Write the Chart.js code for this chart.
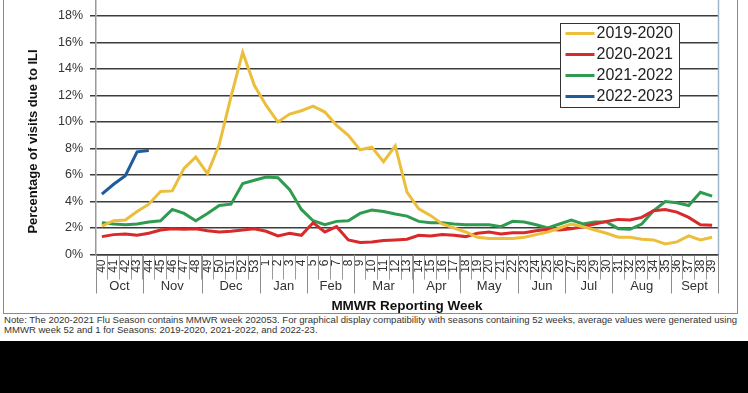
<!DOCTYPE html>
<html><head><meta charset="utf-8">
<script src="https://cdn.jsdelivr.net/npm/chart.js@4/dist/chart.umd.min.js"></script>
<style>
html,body{margin:0;padding:0;background:#000;}
#page{position:relative;width:748px;height:393px;overflow:hidden;background:#000;}
#white{position:absolute;left:0;top:0;width:748px;height:341px;background:#fff;}
#frame{position:absolute;left:3px;top:-2px;width:735px;height:316px;border:1px solid #8a8a8a;box-sizing:border-box;}
#wrap{position:absolute;left:0;top:-30px;width:748px;height:343px;}
#note{position:absolute;left:4px;top:315px;font-family:"Liberation Sans",Arial,sans-serif;font-size:9.5px;line-height:10px;color:#333;white-space:nowrap;transform-origin:0 0;}
#note div{display:block;}
</style></head>
<body>
<div id="page">
  <div id="white"></div>
  <div id="frame"></div>
  <div id="wrap"><canvas id="c" width="748" height="343"></canvas></div>
  <div id="note"><div><span id="n1">Note: The 2020-2021 Flu Season contains MMWR week 202053. For graphical display compatibility with seasons containing 52 weeks, average values were generated using</span></div><div>MMWR week 52 and 1 for Seasons: 2019-2020, 2021-2022, and 2022-23.</div></div>
</div>
<script>
const weekLabels = ['40','41','42','43','44','45','46','47','48','49','50','51','52','53',
  '1','2','3','4','5','6','7','8','9','10','11','12','13','14','15','16','17','18','19','20',
  '21','22','23','24','25','26','27','28','29','30','31','32','33','34','35','36','37','38','39'];
const monthNames = ['Oct','Nov','Dec','Jan','Feb','Mar','Apr','May','Jun','Jul','Aug','Sept'];
const monthWeekCounts = [4,5,5,4,4,5,4,5,4,4,5,4];
const seasonLabels = ['2019-2020','2020-2021','2021-2022','2022-2023'];

const ili2019_2020 = [2.15,2.55,2.6,3.25,3.8,4.75,4.8,6.5,7.35,6.1,8.3,11.9,15.25,12.75,
  11.25,10.0,10.6,10.85,11.2,10.75,9.75,9.0,7.9,8.1,7.0,8.2,4.7,3.45,2.95,2.3,2.0,1.7,1.3,1.2,
  1.2,1.2,1.3,1.5,1.7,2.0,2.3,2.1,1.85,1.6,1.3,1.3,1.15,1.1,0.8,0.95,1.4,1.1,1.3];
const ili2020_2021 = [1.35,1.5,1.55,1.45,1.6,1.85,1.95,1.9,1.95,1.8,1.7,1.75,1.85,1.95,
  1.75,1.4,1.6,1.45,2.4,1.7,2.1,1.1,0.9,0.95,1.05,1.1,1.15,1.45,1.4,1.5,1.45,1.35,1.6,1.7,
  1.55,1.65,1.65,1.8,1.9,1.85,1.95,2.1,2.3,2.5,2.65,2.6,2.8,3.3,3.4,3.2,2.8,2.25,2.2];
const ili2021_2022 = [2.4,2.3,2.25,2.3,2.45,2.55,3.4,3.1,2.55,3.1,3.7,3.8,5.35,5.6,
  5.85,5.8,4.9,3.4,2.55,2.25,2.5,2.55,3.1,3.35,3.25,3.05,2.9,2.5,2.4,2.4,2.3,2.25,2.25,2.25,
  2.1,2.5,2.45,2.25,2.0,2.3,2.6,2.3,2.45,2.45,1.95,1.9,2.3,3.3,4.0,3.9,3.7,4.7,4.4];
const ili2022_2023 = [4.55,5.3,5.95,7.75,7.85];

const seriesData = [ili2019_2020, ili2020_2021, ili2021_2022, ili2022_2023];
const seriesColors = ['#EBBE3C','#D8292B','#2F9B50','#1F5C9C'];
const FAM = '"Liberation Sans", Arial, sans-serif';

const decor = {
  id: 'decor',
  afterDraw(chart) {
    const {ctx, chartArea: ca, scales: {x}} = chart;
    ctx.save();
    // right plot edge
    ctx.strokeStyle = '#9fb6c8'; ctx.lineWidth = 1.5;
    ctx.beginPath(); ctx.moveTo(ca.right + 0.5, 0); ctx.lineTo(ca.right + 0.5, ca.bottom); ctx.stroke();
    // month row
    const half = (x.getPixelForValue(1) - x.getPixelForValue(0)) / 2;
    ctx.strokeStyle = '#8c8c8c'; ctx.lineWidth = 1;
    const sep = (px) => { const p = Math.round(px) + 0.5; ctx.beginPath(); ctx.moveTo(p, ca.bottom); ctx.lineTo(p, ca.bottom + 39); ctx.stroke(); };
    ctx.font = '13px ' + FAM; ctx.fillStyle = '#333'; ctx.textAlign = 'center'; ctx.textBaseline = 'middle';
    let idx = 0;
    sep(x.getPixelForValue(0) - half);
    monthWeekCounts.forEach((n, m) => {
      const l = x.getPixelForValue(idx) - half;
      const r = x.getPixelForValue(idx + n - 1) + half;
      ctx.fillText(monthNames[m], (l + r) / 2, ca.bottom + 31.5);
      sep(r);
      idx += n;
    });
    // y title
    ctx.save();
    ctx.translate(33, (ca.top + ca.bottom) / 2 + 19.5);
    ctx.rotate(-Math.PI / 2);
    ctx.font = 'bold 13px ' + FAM; ctx.fillStyle = '#111';
    ctx.fillText('Percentage of visits due to ILI', 0, 0);
    ctx.restore();
    // legend
    const bx = Math.round(ca.right - 158) + 0.5, by = Math.round(ca.top + 33.5) + 0.5, bw = 119, bh = 84;
    ctx.fillStyle = '#fff'; ctx.fillRect(bx, by, bw, bh);
    ctx.strokeStyle = '#333'; ctx.lineWidth = 1; ctx.strokeRect(bx, by, bw, bh);
    ctx.font = '16px ' + FAM; ctx.textAlign = 'left';
    chart.data.datasets.forEach((ds, i) => {
      const yy = by + 10 + 21 * i;
      ctx.strokeStyle = ds.borderColor; ctx.lineWidth = 3;
      ctx.beginPath(); ctx.moveTo(bx + 5, yy); ctx.lineTo(bx + 34, yy); ctx.stroke();
      ctx.fillStyle = '#222';
      ctx.fillText(ds.label, bx + 36, yy + 0.5);
    });
    ctx.restore();
  }
};

new Chart(document.getElementById('c'), {
  type: 'line',
  data: {
    labels: weekLabels,
    datasets: seasonLabels.map((l, i) => ({
      label: l, data: seriesData[i], borderColor: seriesColors[i], backgroundColor: seriesColors[i],
      borderWidth: 3, pointRadius: 0, tension: 0, fill: false
    }))
  },
  options: {
    responsive: false, animation: false, devicePixelRatio: 1,
    layout: {padding: {left: 0, right: 30, top: 19.5, bottom: 0}},
    plugins: {legend: {display: false}, tooltip: {enabled: false}},
    scales: {
      x: {
        type: 'category', offset: true,
        grid: {offset: true, drawOnChartArea: false, drawTicks: true, tickLength: 25, color: '#9a9a9a', lineWidth: 1},
        border: {display: true, color: '#3c3c3c', width: 1.5},
        ticks: {autoSkip: false, minRotation: 90, maxRotation: 90, padding: -20, font: {size: 12, family: FAM}, color: '#333'},
        title: {display: true, text: 'MMWR Reporting Week', font: {size: 13.5, weight: 'bold', family: FAM, lineHeight: 1}, color: '#111', padding: {top: 0, bottom: 0}},
        afterFit(s) { s.height = 58.5; }
      },
      y: {
        min: 0, max: 20,
        ticks: {stepSize: 2, callback: v => v + '%', padding: 7, font: {size: 12.5, family: FAM}, color: '#333'},
        grid: {color: '#3c3c3c', lineWidth: 1.5, tickLength: 6, drawTicks: true},
        border: {display: true, color: '#999', width: 1.5},
        afterFit(s) { s.width = 96; }
      }
    }
  },
  plugins: [decor]
});

const note = document.getElementById('note');
const w1 = document.getElementById('n1').getBoundingClientRect().width;
note.style.transform = 'scaleX(' + (733 / w1) + ')';
</script>
</body></html>
